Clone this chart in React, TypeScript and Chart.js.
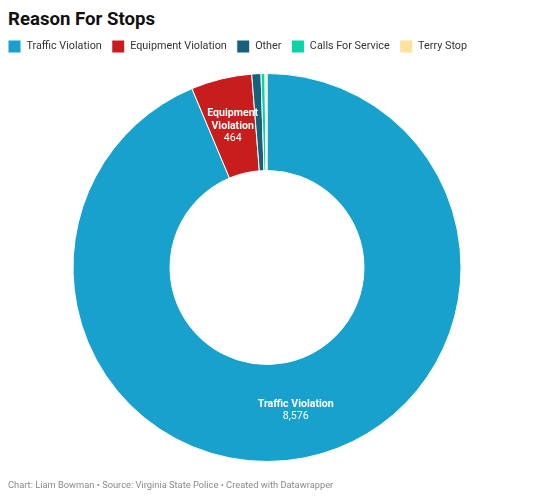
import React, { useEffect, useRef } from "react";
import { Chart, registerables } from "chart.js";

Chart.register(...registerables);

const titleText = "Reason For Stops";
const categories = ["Traffic Violation", "Equipment Violation", "Other", "Calls For Service", "Terry Stop"];
const stopCounts = [8576, 464, 70, 30, 15];
const sliceColors = ["#18a1cd", "#c71e1d", "#15607a", "#0bd3a5", "#fde29b"];
const sliceLabelLines: string[][] = [["Traffic Violation"], ["Equipment", "Violation"], [], [], []];
const footerText = "Chart: Liam Bowman \u2022 Source: Virginia State Police \u2022 Created with Datawrapper";

const FONT = "Roboto, 'Noto Sans', sans-serif";

const sliceLabelPlugin = {
  id: "sliceLabels",
  afterDatasetsDraw(chart: any) {
    const ctx = chart.ctx;
    const meta = chart.getDatasetMeta(0);
    meta.data.forEach((arc: any, i: number) => {
      const lines = sliceLabelLines[i];
      if (!lines || lines.length === 0) return;
      const { x, y } = arc.tooltipPosition();
      const all = [...lines.map((t) => ({ t, bold: true })), { t: stopCounts[i].toLocaleString("en-US"), bold: false }];
      const lh = 12.5;
      let yy = y - ((all.length - 1) * lh) / 2;
      ctx.save();
      ctx.textAlign = "center";
      ctx.textBaseline = "middle";
      ctx.fillStyle = "#ffffff";
      all.forEach((l) => {
        ctx.font = `${l.bold ? "700" : "400"} 10.6px ${FONT}`;
        ctx.fillText(l.t, x, yy);
        yy += lh;
      });
      ctx.restore();
    });
  },
};

function DonutChart() {
  const ref = useRef<HTMLCanvasElement | null>(null);
  useEffect(() => {
    if (!ref.current) return;
    const chart = new Chart(ref.current, {
      type: "doughnut",
      data: {
        labels: categories,
        datasets: [
          {
            data: stopCounts,
            backgroundColor: sliceColors,
            borderColor: "#ffffff",
            borderWidth: 1,
          },
        ],
      },
      options: {
        animation: false,
        responsive: true,
        maintainAspectRatio: false,
        cutout: "50%",
        radius: 194,
        layout: { padding: { top: 30, bottom: 28, left: 0, right: 0 } },
        plugins: {
          legend: {
            display: true,
            position: "top",
            align: "start",
            labels: {
              boxWidth: 13,
              boxHeight: 13,
              padding: 10,
              color: "#333333",
              font: { family: FONT, size: 10.8 },
            },
          },
          tooltip: { enabled: false },
          title: { display: false },
        },
      },
      plugins: [sliceLabelPlugin],
    });
    return () => chart.destroy();
  }, []);
  return <canvas ref={ref} />;
}

export default function App() {
  return (
    <div style={{ position: "absolute", left: 0, top: 0, width: 534, height: 500, overflow: "hidden", background: "#fff" }}>
      <div
        style={{
          position: "absolute",
          left: 8,
          top: 7,
          font: `700 18.6px ${FONT}`,
          lineHeight: "24px",
          color: "#111",
          whiteSpace: "nowrap",
        }}
      >
        {titleText}
      </div>
      <div style={{ position: "absolute", left: -2, top: 0, width: 538, height: 500 }}>
        <DonutChart />
      </div>
      <div
        style={{
          position: "absolute",
          left: 8,
          top: 479,
          font: `400 9.3px ${FONT}`,
          lineHeight: "12px",
          color: "#8a8a8a",
          whiteSpace: "nowrap",
        }}
      >
        {footerText}
      </div>
    </div>
  );
}
